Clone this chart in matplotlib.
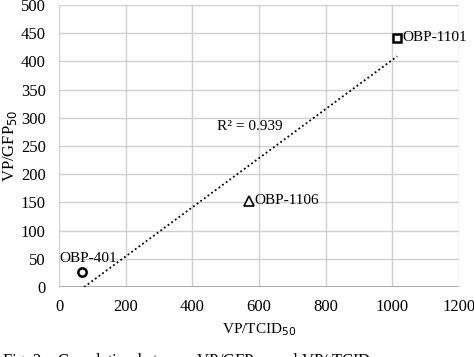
import numpy as np
import matplotlib
matplotlib.use("Agg")
from matplotlib import pyplot as plt

plt.rcParams['font.family'] = ['Liberation Serif', 'DejaVu Serif']

# data
names = ["OBP-401", "OBP-1106", "OBP-1101"]
vp_tcid = [70, 570, 1015]
vp_gfp = [27, 153, 442]
markers = ["o", "^", "s"]
xticks = [0, 200, 400, 600, 800, 1000, 1200]
yticks = [0, 50, 100, 150, 200, 250, 300, 350, 400, 450, 500]

fig = plt.figure(figsize=(4.74, 3.57), dpi=100)
ax = fig.add_axes([0.1245, 0.196, 0.8435, 0.79])

for x, y, m in zip(vp_tcid, vp_gfp, markers):
    if m == "^":
        ax.plot([x], [y], marker=m, ms=6.5, mfc="white", mec="black", mew=1.2,
                ls="none", zorder=3)
    else:
        ax.plot([x], [y], marker=m, ms=6, mfc="white", mec="black", mew=1.8,
                ls="none", zorder=3)

# linear trendline, clipped at y = 0
slope, icpt = np.polyfit(vp_tcid, vp_gfp, 1)
x0 = max(min(vp_tcid), -icpt / slope)
xs = np.array([x0, max(vp_tcid)])
ax.plot(xs, slope * xs + icpt, ls=(0, (1, 1.5)), color="black", lw=1.3, zorder=2)

ax.text(0, 51, names[0], fontsize=11, ha="left", va="center")
ax.text(585, 153, names[1], fontsize=11, ha="left", va="center")
ax.text(1030, 442, names[2], fontsize=11, ha="left", va="center")
ax.text(475, 284, "R² = 0.939", fontsize=11, ha="left", va="center")

ax.set_xlim(0, 1200)
ax.set_ylim(0, 500)
ax.set_xticks(xticks)
ax.set_yticks(yticks)
ax.grid(True, color="#d0d0d0", lw=1)
ax.set_axisbelow(True)
for s in ax.spines.values():
    s.set_visible(False)
ax.axhline(0, color="#a0a0a0", lw=1.2, zorder=1)
ax.tick_params(length=0, labelsize=12)
ax.tick_params(axis="y", pad=9.5)
ax.tick_params(axis="x", pad=8.5)
ax.set_xlabel("VP/TCID$_{50}$", fontsize=11, labelpad=5)
ax.set_ylabel("VP/GFP$_{50}$", fontsize=12, labelpad=1)

fig.text(0.005, -0.01, "Fig. 2    Correlation between VP/GFP$_{50}$ and VP/ TCID$_{50}$",
         fontsize=12, ha="left", va="center")

fig.savefig("out.png", dpi=100)
